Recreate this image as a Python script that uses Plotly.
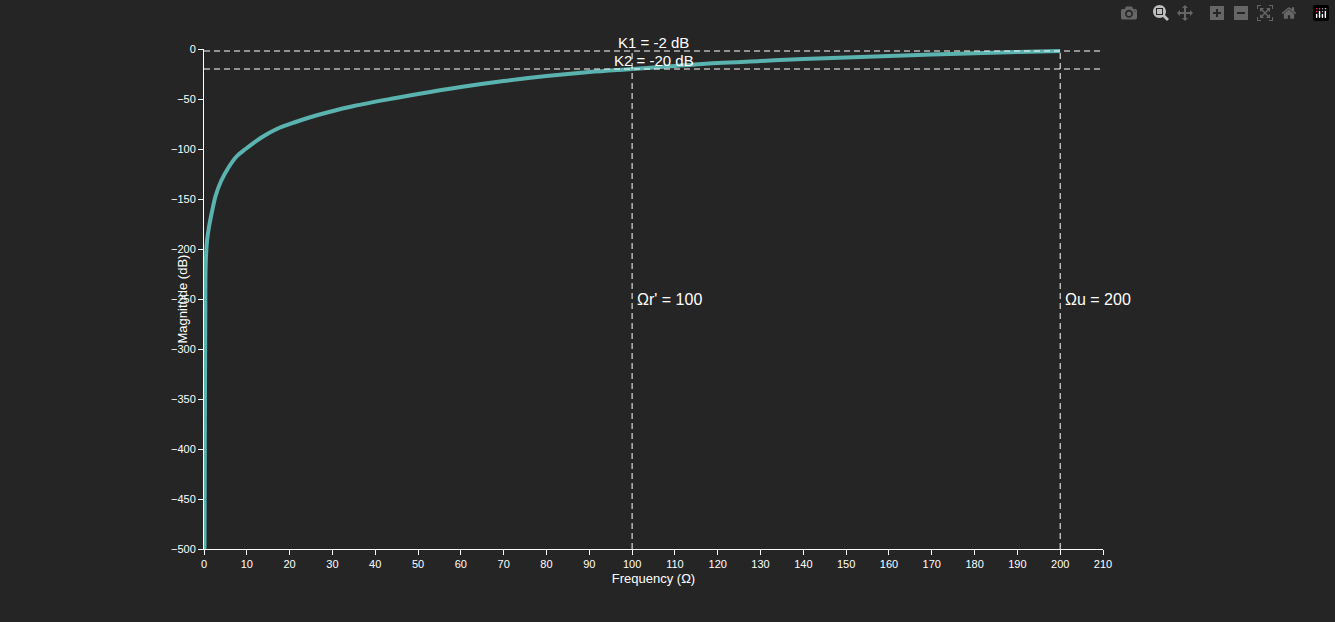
import plotly.graph_objects as go

freq = [0.12, 0.2, 0.3, 0.4, 0.7, 1.2, 2.0, 2.7, 4.0, 5.8, 7.5, 9.7, 13.6, 17, 21.4, 25, 29.2, 35, 44.8, 50, 60, 70, 80, 90, 100, 110, 120, 130, 140, 150, 160, 170, 180, 190, 200]
mag = [-500, -380, -270, -215, -192, -177, -160, -147, -132, -118, -108, -100, -88, -80, -73, -68, -63, -57, -49, -45, -38, -32, -27, -23, -20, -17, -14, -12, -10, -8.5, -7, -5.5, -4.2, -3, -2]
k1, k2 = -2, -20
omega_r, omega_u = 100, 200

fig = go.Figure()
fig.add_trace(go.Scatter(x=freq, y=mag, mode="lines", line=dict(color="#5bb3b0", width=4, shape="spline"), showlegend=False))
dash = dict(color="white", width=1, dash="6px,4px")
for k in (k1, k2):
    fig.add_shape(type="line", x0=0, x1=210, y0=k, y1=k, line=dash)
for w in (omega_r, omega_u):
    fig.add_shape(type="line", x0=w, x1=w, y0=-500, y1=0, line=dash)
fig.add_annotation(x=105, y=k1, text="K1 = -2 dB", showarrow=False, yanchor="bottom", yshift=-2, font=dict(size=15, color="white"))
fig.add_annotation(x=105, y=-11, text="K2 = -20 dB", showarrow=False, font=dict(size=15, color="white"))
fig.add_annotation(x=omega_r, y=-250, text="Ωr' = 100", showarrow=False, xanchor="left", xshift=3, font=dict(size=16, color="white"))
fig.add_annotation(x=omega_u, y=-250, text="Ωu = 200", showarrow=False, xanchor="left", xshift=3, font=dict(size=16, color="white"))
fig.add_annotation(xref="paper", yref="paper", x=0, xshift=-32, y=0.5, text="Magnitude (dB)", textangle=-90,
                   showarrow=False, font=dict(size=13, color="white"))

ax = dict(showgrid=False, zeroline=False, showline=True, linecolor="white", ticks="outside", tickcolor="white",
          ticklen=5, tickfont=dict(size=11, color="white"))
fig.update_layout(
    width=1335, height=622, paper_bgcolor="#252525", plot_bgcolor="#252525",
    margin=dict(l=204, r=232, t=49, b=73),
    font=dict(family="Liberation Sans, Arial", color="white"),
    xaxis=dict(ax, range=[0, 210], dtick=10, title=dict(text="Frequency (Ω)", font=dict(size=13), standoff=4)),
    yaxis=dict(ax, range=[-500, 0], dtick=50),
)
fig.write_html("out.html")
with open("out.html", encoding="utf-8") as f:
    html = f.read()
html = html.replace("<head>", "<head><style>html,body{margin:0;padding:0;background:#252525;overflow:hidden}</style>", 1)
with open("out.html", "w", encoding="utf-8") as f:
    f.write(html)
